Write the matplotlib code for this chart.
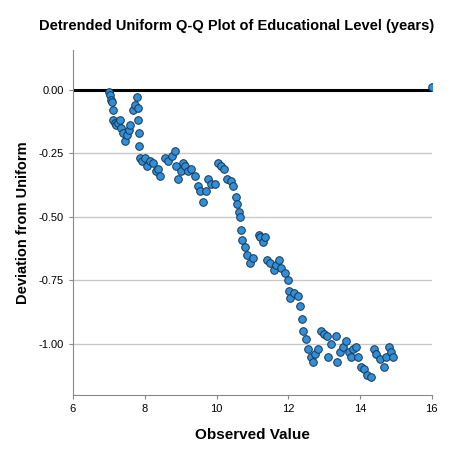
import matplotlib
matplotlib.use('Agg')
import matplotlib.pyplot as plt

plt.rcParams['font.family'] = ['Liberation Sans', 'DejaVu Sans']

obs = [7.00, 7.03, 7.06, 7.09, 7.11, 7.12, 7.16, 7.20, 7.25, 7.31, 7.35, 7.40, 7.45, 7.50, 7.55, 7.60,
       7.68, 7.74, 7.79, 7.80, 7.81, 7.83, 7.85, 7.87, 7.92, 8.00, 8.07, 8.15, 8.23, 8.30, 8.37, 8.43,
       8.57, 8.65, 8.75, 8.85, 8.88, 8.93, 9.00, 9.07, 9.13, 9.20, 9.30, 9.41, 9.48, 9.55, 9.63, 9.70,
       9.77, 9.85, 9.97, 10.05, 10.12, 10.20, 10.30, 10.39, 10.46, 10.53, 10.58, 10.62, 10.66, 10.69,
       10.72, 10.78, 10.85, 10.94, 11.03, 11.17, 11.22, 11.30, 11.36, 11.42, 11.50, 11.59, 11.66, 11.73,
       11.80, 11.90, 11.98, 12.02, 12.06, 12.15, 12.28, 12.33, 12.38, 12.42, 12.48, 12.55, 12.62, 12.68,
       12.75, 12.82, 12.90, 13.00, 13.09, 13.12, 13.20, 13.32, 13.37, 13.45, 13.52, 13.60, 13.68, 13.74,
       13.80, 13.88, 13.95, 14.02, 14.10, 14.20, 14.30, 14.38, 14.45, 14.55, 14.66, 14.73, 14.80, 14.86,
       14.91, 16.00]
dev = [-0.01, -0.02, -0.04, -0.05, -0.08, -0.12, -0.13, -0.14, -0.13, -0.12, -0.15, -0.17, -0.20, -0.18, -0.16, -0.14,
       -0.08, -0.06, -0.03, -0.07, -0.12, -0.17, -0.22, -0.27, -0.28, -0.27, -0.30, -0.28, -0.29, -0.32, -0.31, -0.34,
       -0.27, -0.28, -0.26, -0.24, -0.30, -0.35, -0.32, -0.29, -0.30, -0.32, -0.31, -0.34, -0.38, -0.40, -0.44, -0.40,
       -0.35, -0.37, -0.37, -0.29, -0.30, -0.31, -0.35, -0.36, -0.38, -0.42, -0.45, -0.48, -0.50, -0.55,
       -0.59, -0.62, -0.65, -0.68, -0.66, -0.57, -0.58, -0.60, -0.58, -0.67, -0.68, -0.71, -0.69, -0.67,
       -0.70, -0.72, -0.75, -0.79, -0.82, -0.80, -0.81, -0.85, -0.90, -0.95, -0.98, -1.02, -1.05, -1.07,
       -1.04, -1.02, -0.95, -0.96, -0.97, -1.05, -1.00, -0.97, -1.07, -1.03, -1.01, -0.99, -1.03, -1.05,
       -1.02, -1.01, -1.05, -1.09, -1.10, -1.12, -1.13, -1.02, -1.04, -1.06, -1.09, -1.05, -1.01, -1.03,
       -1.05, 0.01]

x_ticks = [6, 8, 10, 12, 14, 16]
y_ticks = [0.0, -0.25, -0.5, -0.75, -1.0]
y_labels = ['0.00', '-0.25', '-0.50', '-0.75', '-1.00']

fig = plt.figure(figsize=(4.74, 4.57), dpi=100)
ax = fig.add_axes([0.154, 0.136, 0.757, 0.755])
ax.set_xlim(6, 16)
ax.set_ylim(-1.2, 0.157)

for yv in y_ticks:
    ax.axhline(yv, color='#c8c8c8', lw=1, zorder=0)
ax.axhline(0, color='black', lw=2.2, zorder=1)

ax.scatter(obs, dev, s=30, facecolor='#2f8fd8', edgecolor='#1a3550', linewidth=0.7, zorder=3)

ax.set_xticks(x_ticks)
ax.set_yticks(y_ticks)
ax.set_yticklabels(y_labels)
ax.tick_params(labelsize=8, length=3, color='#888888')
for s in ['top', 'right']:
    ax.spines[s].set_visible(False)
for s in ['left', 'bottom']:
    ax.spines[s].set_color('#888888')

ax.set_xlabel('Observed Value', fontsize=11, fontweight='bold', labelpad=10)
ax.set_ylabel('Deviation from Uniform', fontsize=10.5, fontweight='bold', labelpad=6)
fig.text(0.5, 0.935, 'Detrended Uniform Q-Q Plot of Educational Level (years)',
         ha='center', fontsize=10.5, fontweight='bold')

fig.savefig('out.png', dpi=100)
